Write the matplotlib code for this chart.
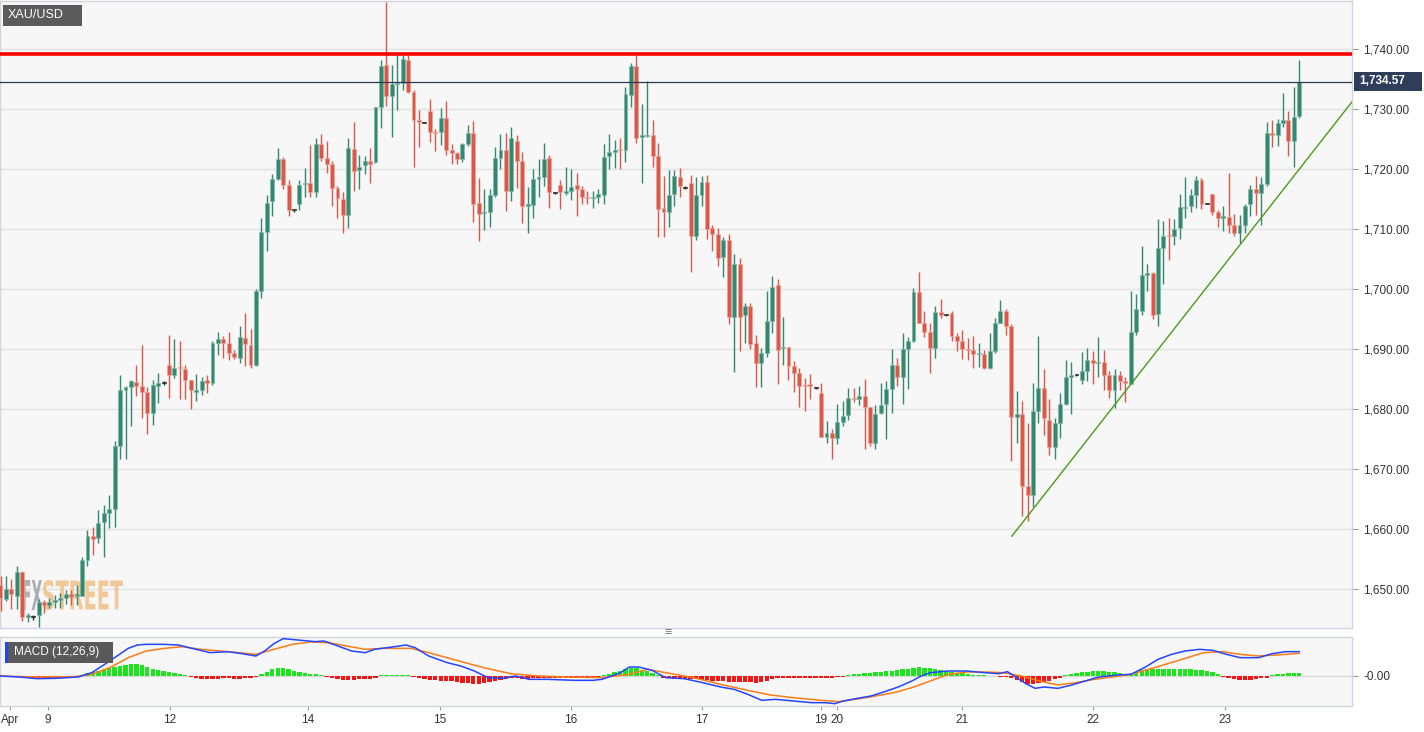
import numpy as np
import matplotlib
matplotlib.use("Agg")
import matplotlib.pyplot as plt
from matplotlib.textpath import TextPath
from matplotlib.patches import PathPatch, Rectangle
from matplotlib.font_manager import FontProperties
from matplotlib.transforms import Affine2D

plt.rcParams['font.family'] = ['Liberation Sans', 'DejaVu Sans']

# hourly XAU/USD candles, Apr 8 - Apr 23
opens = [
    1650.7, 1648.3, 1650.0, 1648.8, 1652.8, 1645.4, 1645.3, 1645.6, 1647.8, 1647.4,
    1647.8, 1648.1, 1648.5, 1649.1, 1648.8, 1648.9, 1654.9, 1658.9, 1658.5, 1661.1,
    1662.6, 1663.3, 1673.8, 1683.2, 1683.6, 1684.5, 1683.9, 1682.9, 1679.3, 1683.9,
    1684.3, 1687.3, 1685.7, 1687.0, 1686.7, 1684.8, 1682.9, 1683.1, 1684.8, 1684.4,
    1691.0, 1691.6, 1691.0, 1689.4, 1688.5, 1691.8, 1690.7, 1687.4, 1699.7, 1709.5,
    1714.6, 1718.4, 1721.6, 1717.4, 1713.1, 1714.2, 1717.5, 1717.7, 1716.1, 1724.2,
    1721.8, 1720.9, 1716.8, 1715.0, 1712.4, 1723.3, 1719.8, 1720.6, 1721.4, 1721.1,
    1730.4, 1737.3, 1732.1, 1734.2, 1734.3, 1738.1, 1732.9, 1728.1, 1727.7, 1729.6,
    1726.1, 1726.1, 1728.5, 1723.1, 1722.6, 1721.6, 1724.2, 1726.0, 1714.3, 1712.6,
    1712.8, 1715.6, 1721.9, 1723.2, 1716.4, 1724.7, 1721.4, 1713.9, 1714.0, 1718.4,
    1718.7, 1721.8, 1716.0, 1717.4, 1716.0, 1716.3, 1717.4, 1716.7, 1715.4, 1715.2,
    1715.3, 1715.7, 1722.1, 1722.9, 1723.2, 1723.1, 1732.4, 1737.2, 1725.3, 1725.5,
    1725.6, 1722.2, 1713.5, 1712.9, 1715.9, 1718.6, 1716.9, 1717.6, 1708.8, 1715.7,
    1717.9, 1710.2, 1709.2, 1705.3, 1708.1, 1695.4, 1704.2, 1695.6, 1697.2, 1691.0,
    1687.6, 1689.4, 1694.6, 1700.6, 1690.2, 1690.4, 1687.2, 1686.0, 1683.9, 1684.1,
    1683.5, 1682.6, 1675.4, 1676.0, 1675.2, 1677.8, 1679.0, 1681.9, 1681.6, 1682.1,
    1680.3, 1674.4, 1679.3, 1680.8, 1683.3, 1687.4, 1685.4, 1690.0, 1691.3, 1699.5,
    1694.4, 1692.9, 1690.2, 1696.2, 1695.6, 1696.0, 1692.2, 1691.3, 1689.9, 1689.8,
    1689.2, 1689.2, 1686.8, 1689.6, 1694.4, 1696.3, 1693.8, 1678.7, 1679.2, 1667.1,
    1665.6, 1679.6, 1683.5, 1678.2, 1673.7, 1677.6, 1680.9, 1685.3, 1685.6, 1684.8,
    1686.3, 1688.2, 1687.6, 1687.8, 1685.7, 1683.2, 1685.7, 1684.7, 1684.2, 1692.8,
    1696.4, 1702.4, 1702.7, 1695.9, 1706.8, 1708.9, 1708.9, 1710.2, 1713.5, 1713.8,
    1715.6, 1718.2, 1714.2, 1715.9, 1712.8, 1711.9, 1712.0, 1710.7, 1709.3, 1710.7,
    1714.1, 1716.6, 1716.0, 1717.5, 1726.0, 1725.7, 1727.7, 1728.2, 1724.6, 1728.9,
]
highs = [
    1652.1, 1652.1, 1651.6, 1653.8, 1653.0, 1646.0, 1645.6, 1648.3, 1648.2, 1648.5,
    1649.0, 1649.3, 1649.8, 1649.8, 1650.6, 1655.4, 1659.9, 1660.3, 1663.2, 1664.0,
    1665.7, 1674.6, 1685.7, 1683.9, 1684.9, 1687.4, 1690.6, 1683.7, 1684.8, 1686.0,
    1684.6, 1692.4, 1691.7, 1691.3, 1687.4, 1684.9, 1685.9, 1685.3, 1685.7, 1691.3,
    1692.8, 1692.1, 1692.8, 1689.8, 1693.8, 1696.0, 1693.3, 1700.0, 1711.8, 1715.6,
    1719.2, 1723.5, 1722.0, 1718.2, 1713.2, 1718.1, 1720.2, 1724.0, 1725.2, 1725.9,
    1724.6, 1721.4, 1717.2, 1716.1, 1725.2, 1727.9, 1722.4, 1722.2, 1723.5, 1730.4,
    1738.2, 1747.8, 1737.4, 1739.1, 1739.2, 1739.2, 1733.1, 1729.9, 1727.8, 1731.6,
    1726.7, 1730.2, 1731.4, 1724.1, 1722.8, 1724.4, 1727.4, 1728.0, 1718.5, 1716.6,
    1716.6, 1723.7, 1725.9, 1726.0, 1727.0, 1725.7, 1722.8, 1717.0, 1720.0, 1721.6,
    1724.3, 1722.4, 1716.1, 1718.1, 1720.3, 1720.0, 1719.3, 1717.1, 1716.4, 1716.4,
    1716.6, 1724.2, 1725.8, 1724.8, 1725.1, 1733.6, 1737.6, 1739.1, 1730.8, 1734.6,
    1728.1, 1724.3, 1718.8, 1719.8, 1719.9, 1720.2, 1717.1, 1719.0, 1718.7, 1718.8,
    1719.0, 1710.7, 1710.2, 1708.7, 1709.1, 1705.9, 1705.2, 1697.7, 1697.6, 1692.4,
    1690.2, 1699.6, 1702.1, 1701.6, 1695.4, 1690.4, 1688.0, 1686.8, 1685.2, 1685.8,
    1683.6, 1684.3, 1678.0, 1676.7, 1680.9, 1681.3, 1683.5, 1683.5, 1683.8, 1685.0,
    1680.4, 1680.7, 1684.3, 1684.6, 1690.0, 1688.5, 1692.7, 1692.0, 1700.2, 1702.8,
    1696.4, 1694.3, 1697.2, 1698.3, 1695.7, 1696.3, 1692.7, 1693.1, 1691.8, 1692.1,
    1691.0, 1689.9, 1692.7, 1695.2, 1698.1, 1696.6, 1694.2, 1683.0, 1681.4, 1677.7,
    1684.3, 1692.1, 1686.6, 1681.7, 1678.5, 1682.6, 1688.2, 1687.8, 1685.7, 1689.5,
    1690.2, 1689.6, 1692.0, 1689.9, 1686.3, 1686.6, 1686.4, 1685.4, 1699.6, 1699.1,
    1707.2, 1704.2, 1702.9, 1711.7, 1711.4, 1711.8, 1711.6, 1715.9, 1718.7, 1716.7,
    1718.8, 1718.5, 1714.3, 1715.9, 1713.2, 1713.8, 1719.4, 1712.5, 1712.3, 1714.1,
    1717.4, 1718.8, 1718.7, 1727.8, 1728.2, 1728.3, 1732.6, 1729.6, 1733.7, 1738.2,
]
lows = [
    1646.3, 1648.0, 1646.6, 1646.6, 1644.6, 1644.5, 1644.8, 1643.7, 1646.0, 1646.9,
    1646.9, 1646.9, 1647.5, 1647.4, 1647.3, 1648.8, 1653.8, 1655.7, 1657.7, 1655.4,
    1660.2, 1660.4, 1671.6, 1671.6, 1677.1, 1682.2, 1678.5, 1675.9, 1677.4, 1681.0,
    1684.0, 1681.8, 1685.2, 1681.6, 1681.6, 1680.0, 1681.4, 1682.4, 1682.7, 1684.0,
    1689.0, 1688.5, 1688.2, 1688.3, 1687.7, 1687.2, 1686.8, 1687.2, 1698.5, 1706.4,
    1712.1, 1718.1, 1716.7, 1712.1, 1712.9, 1713.1, 1715.3, 1715.3, 1715.3, 1721.3,
    1719.3, 1713.9, 1711.8, 1709.3, 1710.2, 1716.3, 1716.6, 1719.1, 1717.7, 1721.0,
    1726.8, 1730.5, 1725.3, 1729.9, 1733.2, 1732.6, 1720.4, 1723.7, 1727.6, 1724.5,
    1723.0, 1724.0, 1722.3, 1720.8, 1720.9, 1721.2, 1723.8, 1711.2, 1708.0, 1709.9,
    1710.4, 1715.4, 1720.0, 1713.0, 1714.6, 1716.8, 1711.0, 1709.4, 1711.8, 1715.4,
    1717.1, 1713.5, 1715.9, 1713.3, 1715.7, 1714.9, 1712.1, 1714.2, 1714.2, 1713.5,
    1714.3, 1714.1, 1720.0, 1720.2, 1720.0, 1721.1, 1730.4, 1724.3, 1717.7, 1725.3,
    1720.4, 1708.7, 1708.6, 1710.4, 1713.9, 1715.4, 1716.7, 1702.9, 1708.2, 1713.8,
    1708.3, 1706.4, 1703.8, 1702.0, 1694.2, 1686.1, 1689.6, 1691.0, 1690.0, 1683.7,
    1683.7, 1688.7, 1692.6, 1684.1, 1687.4, 1684.9, 1682.8, 1680.4, 1679.6, 1681.6,
    1683.4, 1675.4, 1674.3, 1671.7, 1674.1, 1677.1, 1678.1, 1681.1, 1680.7, 1673.3,
    1673.9, 1673.3, 1679.2, 1675.0, 1679.4, 1683.8, 1680.9, 1683.4, 1691.1, 1694.3,
    1692.0, 1686.0, 1688.5, 1695.2, 1695.5, 1691.3, 1689.6, 1688.3, 1688.2, 1686.8,
    1687.0, 1686.7, 1686.6, 1689.4, 1694.3, 1692.4, 1671.3, 1674.3, 1662.1, 1661.4,
    1663.7, 1677.7, 1675.6, 1672.4, 1671.6, 1675.2, 1680.7, 1679.2, 1685.5, 1684.1,
    1684.6, 1684.1, 1685.4, 1683.1, 1681.8, 1680.2, 1683.2, 1681.1, 1684.1, 1692.4,
    1695.7, 1699.6, 1695.0, 1693.8, 1700.9, 1704.8, 1707.3, 1708.3, 1711.8, 1712.8,
    1713.5, 1713.3, 1714.1, 1712.4, 1710.4, 1709.6, 1709.3, 1708.8, 1707.7, 1709.3,
    1712.1, 1712.4, 1710.6, 1717.1, 1723.7, 1723.8, 1727.0, 1722.1, 1720.4, 1728.5,
]
closes = [
    1648.5, 1650.0, 1649.1, 1652.8, 1645.4, 1645.6, 1645.3, 1647.8, 1647.4, 1647.8,
    1648.2, 1648.5, 1649.1, 1648.7, 1649.1, 1654.8, 1658.9, 1658.4, 1661.0, 1662.6,
    1663.3, 1673.9, 1683.2, 1683.6, 1684.7, 1683.9, 1682.9, 1679.3, 1684.0, 1684.3,
    1684.3, 1685.7, 1686.8, 1686.8, 1684.8, 1683.1, 1683.2, 1684.7, 1684.4, 1691.0,
    1691.7, 1691.0, 1689.4, 1688.6, 1692.0, 1690.9, 1687.3, 1699.6, 1709.5, 1714.4,
    1718.4, 1721.6, 1717.4, 1713.1, 1713.1, 1717.4, 1717.7, 1716.1, 1724.2, 1721.8,
    1720.9, 1716.8, 1715.2, 1712.4, 1723.5, 1719.7, 1720.3, 1721.3, 1720.9, 1730.3,
    1737.2, 1732.1, 1734.2, 1734.3, 1738.3, 1732.9, 1728.2, 1727.8, 1727.7, 1726.1,
    1726.0, 1728.5, 1723.2, 1722.6, 1721.6, 1724.2, 1726.0, 1714.1, 1712.5, 1712.8,
    1715.6, 1721.8, 1723.1, 1716.4, 1725.2, 1721.4, 1713.8, 1714.1, 1718.4, 1718.7,
    1721.7, 1716.1, 1716.0, 1716.1, 1716.3, 1717.0, 1716.7, 1715.4, 1715.2, 1715.3,
    1715.8, 1722.0, 1722.9, 1723.2, 1723.1, 1732.5, 1737.2, 1725.2, 1725.6, 1725.6,
    1722.2, 1713.3, 1712.8, 1715.7, 1718.9, 1717.1, 1716.9, 1708.8, 1715.7, 1717.9,
    1710.0, 1709.2, 1705.2, 1708.1, 1695.4, 1704.2, 1695.4, 1697.1, 1690.9, 1687.6,
    1689.3, 1694.6, 1700.4, 1689.8, 1690.4, 1687.2, 1686.0, 1683.9, 1683.8, 1683.8,
    1683.5, 1675.4, 1676.0, 1675.2, 1677.8, 1678.9, 1681.9, 1681.6, 1682.2, 1680.4,
    1674.4, 1679.2, 1680.7, 1683.3, 1687.4, 1685.4, 1690.0, 1691.3, 1699.5, 1694.4,
    1692.9, 1690.2, 1696.2, 1695.7, 1695.6, 1692.2, 1691.3, 1690.0, 1689.8, 1689.2,
    1689.4, 1686.8, 1689.6, 1694.4, 1696.3, 1693.8, 1678.7, 1679.2, 1667.1, 1665.6,
    1679.6, 1683.5, 1678.5, 1673.7, 1677.6, 1680.9, 1685.3, 1685.7, 1685.6, 1686.3,
    1688.2, 1687.6, 1687.8, 1685.7, 1683.2, 1685.6, 1684.6, 1684.4, 1692.9, 1696.6,
    1702.4, 1702.7, 1695.6, 1706.8, 1708.9, 1708.8, 1710.0, 1713.7, 1713.7, 1715.6,
    1718.2, 1714.2, 1714.2, 1712.9, 1711.9, 1712.1, 1710.7, 1709.4, 1710.6, 1713.9,
    1716.6, 1716.0, 1717.5, 1726.0, 1725.7, 1727.7, 1728.2, 1724.6, 1728.7, 1734.57,
]

# MACD(12,26,9) (candle index, value)
macd_at = [0, 3.4, 6.7, 10.1, 14.3, 16.8, 20.1, 23.5, 25.2, 26.8, 30.2, 32.7, 35.2,
           38.6, 41.9, 44.4, 47.0, 48.6, 50.3, 52.0, 55.4, 57.9, 59.5, 62.1, 64.6,
           67.1, 68.8, 72.1, 74.6, 76.3, 78.8, 82.2, 84.7, 87.2, 89.7, 92.3, 94.8,
           97.3, 100.6, 105.7, 109.0, 110.7, 114.1, 115.7, 117.4, 119.9, 122.4,
           125.8, 129.2, 132.5, 135.0, 137.5, 140.1, 142.6, 145.9, 149.3, 151.8,
           153.5, 155.1, 157.7, 160.2, 162.7, 165.2, 167.7, 169.4, 171.1, 174.4,
           177.8, 181.1, 183.7, 185.3, 187.0, 188.7, 190.4, 192.0, 194.6, 197.1,
           199.6, 202.1, 205.5, 208.0, 210.5, 213.0, 215.5, 218.0, 220.6, 223.1,
           225.6, 228.1, 231.5, 234.0, 236.5, 239.0]
macd_val = [0.0, -0.15, -0.4, -0.35, -0.15, 0.5, 2.25, 4.15, 4.65, 4.75, 4.75, 4.65,
            4.15, 3.5, 3.65, 3.35, 3.0, 3.75, 4.85, 5.6, 5.35, 5.15, 5.25, 4.5, 3.75,
            3.5, 4.0, 4.35, 4.65, 4.25, 3.0, 2.0, 1.5, 0.75, -0.25, -0.35, 0.0, -0.5,
            -0.5, -0.65, -0.65, -0.5, 0.5, 1.35, 1.35, 0.85, -0.25, -0.4, -1.0,
            -1.65, -2.0, -2.75, -3.65, -3.5, -3.75, -4.0, -4.0, -4.15, -3.75, -3.35,
            -3.0, -2.35, -1.65, -0.75, 0.0, 0.5, 0.75, 0.75, 0.5, 0.35, 0.65, -0.25,
            -1.15, -1.85, -1.65, -1.85, -1.35, -0.75, -0.15, 0.15, 0.25, 1.25, 2.5,
            3.25, 3.75, 4.0, 3.85, 3.25, 2.75, 2.75, 3.35, 3.65, 3.65]
signal_at = [0, 6.7, 13.4, 16.8, 20.1, 23.5, 26.8, 30.2, 33.5, 36.9, 41.9, 47.0,
             50.3, 53.7, 57.0, 60.4, 63.7, 67.1, 70.4, 75.5, 78.8, 83.9, 88.9, 93.9,
             99.0, 104.0, 110.7, 115.7, 119.1, 122.4, 127.5, 132.5, 137.5, 141.7,
             145.9, 151.0, 154.3, 159.3, 164.4, 167.7, 171.1, 174.4, 177.8, 181.1,
             184.5, 187.9, 191.2, 194.6, 197.9, 201.3, 204.6, 208.0, 211.3, 216.4,
             221.4, 224.8, 228.1, 231.5, 234.8, 238.2, 239.0]
signal_val = [0.0, -0.15, -0.1, 0.25, 1.25, 2.75, 3.75, 4.15, 4.4, 4.0, 3.65, 3.25,
              4.0, 4.75, 5.1, 5.0, 4.5, 4.0, 4.15, 4.15, 3.5, 2.35, 1.25, 0.35, 0.0,
              -0.15, -0.25, 0.25, 1.0, 0.5, -0.25, -1.25, -2.15, -2.85, -3.25,
              -3.65, -3.85, -3.25, -2.5, -1.75, -0.75, 0.25, 0.6, 0.6, 0.5, 0.0,
              -0.75, -1.35, -1.0, -0.5, -0.15, 0.25, 1.0, 2.25, 3.5, 3.65, 3.25,
              3.0, 3.15, 3.35, 3.4]
hist = [
    0.05, 0.05, 0.05, 0.05,
    -0.1, -0.2, -0.3, -0.35, -0.4, -0.4, -0.35, -0.3, -0.25, -0.15, -0.05,
    0.2, 0.4, 0.6, 0.8, 1.0, 1.2, 1.4, 1.55, 1.7, 1.85, 1.8, 1.6, 1.35, 1.1, 0.9,
    0.75, 0.6, 0.4, 0.25, 0.1,
    -0.2, -0.3, -0.4, -0.45, -0.45, -0.4, -0.35, -0.35, -0.4, -0.4, -0.35, -0.3, -0.2,
    0.3, 0.6, 1.0, 1.2, 1.25, 1.0, 0.8, 0.65, 0.5, 0.35, 0.25, 0.15,
    -0.15, -0.3, -0.45, -0.55, -0.6, -0.55, -0.5, -0.5, -0.45, -0.35,
    0.1, 0.15, 0.2, 0.2, 0.15, 0.1,
    -0.2, -0.35, -0.45, -0.55, -0.65, -0.7, -0.75, -0.8, -0.9, -1.0, -1.1, -1.2,
    -1.25, -1.1, -0.95, -0.8, -0.65, -0.45,
    -0.3, -0.35, -0.4, -0.4, -0.35, -0.3, -0.3, -0.25, -0.25, -0.25, -0.25, -0.25,
    -0.25, -0.25, -0.2, -0.2, -0.15,
    0.15, 0.35, 0.55, 0.8, 1.05, 1.25, 1.15, 0.95, 0.75, 0.45, 0.2,
    -0.25, -0.35, -0.45, -0.45, -0.4, -0.45, -0.45,
    -0.55, -0.6, -0.7, -0.75, -0.8, -0.85, -0.85, -0.9, -0.9, -0.95, -1.0, -0.9, -0.7, -0.45,
    -0.25, -0.3, -0.35, -0.35, -0.35, -0.3, -0.25, -0.25, -0.3, -0.3, -0.3, -0.2, -0.1,
    0.15, 0.25, 0.35, 0.4, 0.5, 0.55, 0.6, 0.7, 0.8, 0.9, 1.0, 1.1, 1.25, 1.3, 1.25,
    1.15, 1.05, 0.95, 0.8, 0.65, 0.5, 0.4,
    0.25, 0.2, 0.15, 0.1, 0.05, -0.05, -0.1, -0.15,
    -0.3, -0.6, -0.95, -1.2, -1.25, -1.1, -0.9, -0.7, -0.5, -0.3,
    0.1, 0.25, 0.4, 0.55, 0.65, 0.75, 0.75, 0.7, 0.65, 0.55, 0.45, 0.35, 0.3,
    0.6, 0.85, 1.0, 1.1, 1.1, 1.1, 1.1, 1.1, 1.1, 1.05, 1.0, 0.95, 0.9, 0.8, 0.55, 0.3,
    -0.2, -0.3, -0.45, -0.55, -0.6, -0.55, -0.45, -0.35, -0.25,
    0.2, 0.3, 0.35, 0.4, 0.4, 0.45,
]

resistance = 1739.2
last_price = 1734.57
trend_from = (186.1, 1658.8)   # (candle index, price)
trend_to = (248.7, 1731.2)

date_ticks = [1.8, 8.7, 31.2, 56.6, 80.9, 105.0, 129.1, 151.0, 153.9, 176.9, 201.0, 225.3]
date_labels = ['Apr', '9', '12', '14', '15', '16', '17', '19', '20', '21', '22', '23']

W, H = 1424, 732


def fx(px):
    return px / W


def fy(py):
    return 1 - py / H


o = np.array(opens)
h = np.array(highs)
l = np.array(lows)
c = np.array(closes)
idx = np.arange(len(o))

GREEN, RED, DOJI = '#358770', '#d8584a', '#2a2a2a'
cols = np.where(c > o, GREEN, np.where(c < o, RED, DOJI))
edges = np.where(c > o, '#7fb9a6', np.where(c < o, '#eba49b', DOJI))

fig = plt.figure(figsize=(W / 100, H / 100), dpi=100)
fig.patch.set_facecolor('white')
ax = fig.add_axes([0, fy(628), fx(1352), 627 / H])
ax2 = fig.add_axes([0, fy(706), fx(1352), 69 / H])

for a in (ax, ax2):
    a.set_facecolor('#f7f7f7')
    a.set_xlim(-0.1, 248.7)
    for s in a.spines.values():
        s.set_color('#cfd4de')
        s.set_linewidth(1)

# --- price panel ---
ax.set_ylim(1643.5, 1748.0)
ax.set_axisbelow(True)
ax.grid(axis='y', color='#e2e2e2', lw=1)
ax.yaxis.tick_right()
ax.set_yticks(np.arange(1650, 1741, 10))
ax.set_yticklabels([f'{v:,.2f}' for v in np.arange(1650, 1741, 10)])
ax.tick_params(axis='y', length=4, color='#9a9a9a', labelsize=8.5,
               labelcolor='#333333', pad=4)
ax.set_xticks([])

ax.vlines(idx, l, h, colors=cols, lw=1, zorder=3)
body = np.maximum(np.abs(c - o), 0.18)
ax.bar(idx, body, 0.72, bottom=np.minimum(o, c), color=cols,
       edgecolor=edges, linewidth=0.5, zorder=4)

ax.axhline(resistance, color='#ff0000', lw=2.6, zorder=5)
ax.axhline(last_price, color='#2b3a57', lw=0.9, zorder=5)
ax.plot([trend_from[0], trend_to[0]], [trend_from[1], trend_to[1]],
        color='#4c9a1c', lw=1, zorder=5)

# watermark, under the candles
fp = FontProperties(family='DejaVu Sans', weight='bold')
for word, x0, x1, col in (('FX', 23, 42, '#a3a6ab'), ('STREET', 43, 123, '#f1c48f')):
    tp = TextPath((0, 0), word, size=1, prop=fp)
    ext = tp.get_extents()
    sx = (x1 - x0) / ext.width
    sy = 30 / ext.height
    tr = (Affine2D().translate(-ext.x0, -ext.y0).scale(sx, sy).translate(x0, H - 610)
          + Affine2D().scale(1 / W, 1 / H) + fig.transFigure)
    ax.add_patch(PathPatch(tp, transform=tr, fc=col, ec='none', zorder=1, alpha=0.9))

# label boxes
fig.patches.append(Rectangle((fx(3), fy(26)), fx(79), 21 / H, transform=fig.transFigure,
                             fc='#5b5b5b', ec='none', zorder=10))
fig.text(fx(8), fy(15.5), 'XAU/USD', color='white', fontsize=9, va='center',
         ha='left', zorder=11)

fig.patches.append(Rectangle((fx(1354), fy(91)), fx(68), 19 / H, transform=fig.transFigure,
                             fc='#2d3d5a', ec='none', zorder=10))
fig.text(fx(1359), fy(81), f'{last_price:,.2f}', color='white', fontsize=8.5,
         fontweight='bold', va='center', ha='left', zorder=11)

# --- MACD panel ---
ax2.set_ylim(-4.5, 5.85)
ax2.axhline(0, color='#d9d9d9', lw=1, zorder=1)
hcols = np.where(np.array(hist) >= 0, '#1be61b', '#f51414')
ax2.bar(idx, hist, 0.8, color=hcols, zorder=2)
ax2.plot(signal_at, signal_val, color='#ff7b16', lw=1.1, zorder=3)
ax2.plot(macd_at, macd_val, color='#2445ff', lw=1.1, zorder=4)
ax2.yaxis.tick_right()
ax2.set_yticks([0])
ax2.set_yticklabels(['-0.00'])
ax2.tick_params(axis='y', length=4, color='#9a9a9a', labelsize=8.5,
                labelcolor='#333333', pad=4)
ax2.set_xticks(date_ticks)
ax2.set_xticklabels(date_labels)
ax2.tick_params(axis='x', length=3, color='#9a9a9a', labelsize=8.5,
                labelcolor='#333333', pad=3)

fig.patches.append(Rectangle((fx(5), fy(663)), fx(108), 21 / H, transform=fig.transFigure,
                             fc='#595959', ec='none', zorder=10))
fig.patches.append(Rectangle((fx(5), fy(663)), fx(3), 21 / H, transform=fig.transFigure,
                             fc='#2445ff', ec='none', zorder=11))
fig.text(fx(14), fy(652.5), 'MACD (12,26,9)', color='white', fontsize=8.5,
         va='center', ha='left', zorder=12)

fig.text(fx(668), fy(633), '≡', color='#777777', fontsize=9, va='center', ha='center')

fig.savefig('out.png', dpi=100)
